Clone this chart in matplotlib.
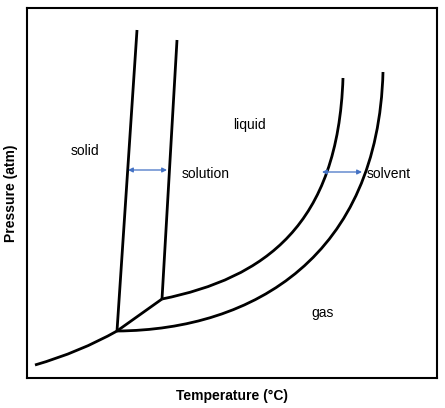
import matplotlib
matplotlib.use("Agg")
import matplotlib.pyplot as plt
from matplotlib.path import Path
from matplotlib.patches import PathPatch

# lines (x = temperature position, y = pressure position; screen-like units, y grows downward)
melt_solvent_x = [117, 137]; melt_solvent_y = [331, 30]
melt_solution_x = [162, 177]; melt_solution_y = [299, 40]
link_x = [117, 162]; link_y = [331, 299]
# bezier control points for curves
subl_pts = [(35, 365), (80, 352), (117, 331)]
vap_solvent_pts = [(117, 331), (255, 330), (378, 255), (383, 72)]
vap_solution_pts = [(162, 299), (265, 278), (338, 225), (343, 78)]
labels = ["solid", "solution", "liquid", "solvent", "gas"]
label_x = [85, 206, 249, 389, 323]
label_y = [151, 174, 125, 174, 313]
arrows = [((128, 170), (167, 170)), ((322, 172), (362, 172))]

fig = plt.figure(figsize=(4.45, 4.08), dpi=100)
ax = fig.add_axes([27/445, 30/408, 410/445, 370/408])
ax.set_xlim(27, 437); ax.set_ylim(378, 8)
ax.set_xticks([]); ax.set_yticks([])
for s in ax.spines.values():
    s.set_linewidth(1.5)
kw = dict(color="black", lw=2, solid_capstyle="butt")
for xs, ys in [(melt_solvent_x, melt_solvent_y), (melt_solution_x, melt_solution_y),
               (link_x, link_y)]:
    ax.plot(xs, ys, **kw)
ax.add_patch(PathPatch(Path(subl_pts, [Path.MOVETO, Path.CURVE3, Path.CURVE3]),
                       fc="none", ec="black", lw=2))
for pts in [vap_solvent_pts, vap_solution_pts]:
    ax.add_patch(PathPatch(Path(pts, [Path.MOVETO, Path.CURVE4, Path.CURVE4, Path.CURVE4]),
                           fc="none", ec="black", lw=2))
for t, x, y in zip(labels, label_x, label_y):
    ax.text(x, y, t, ha="center", va="center", fontsize=10, family="Liberation Sans")
for a, b in arrows:
    ax.annotate("", xy=b, xytext=a, arrowprops=dict(arrowstyle="<|-|>", color="#4472C4", lw=0.9,
                                                  mutation_scale=7, shrinkA=0, shrinkB=0))
fig.text(232/445, 1 - 396/408, "Temperature (°C)", ha="center", va="center", fontsize=10,
         fontweight="bold", family="Liberation Sans")
fig.text(11/445, 1 - 193/408, "Pressure (atm)", ha="center", va="center", rotation=90,
         fontsize=10, fontweight="bold", family="Liberation Sans")
fig.savefig("out.png", dpi=100)
